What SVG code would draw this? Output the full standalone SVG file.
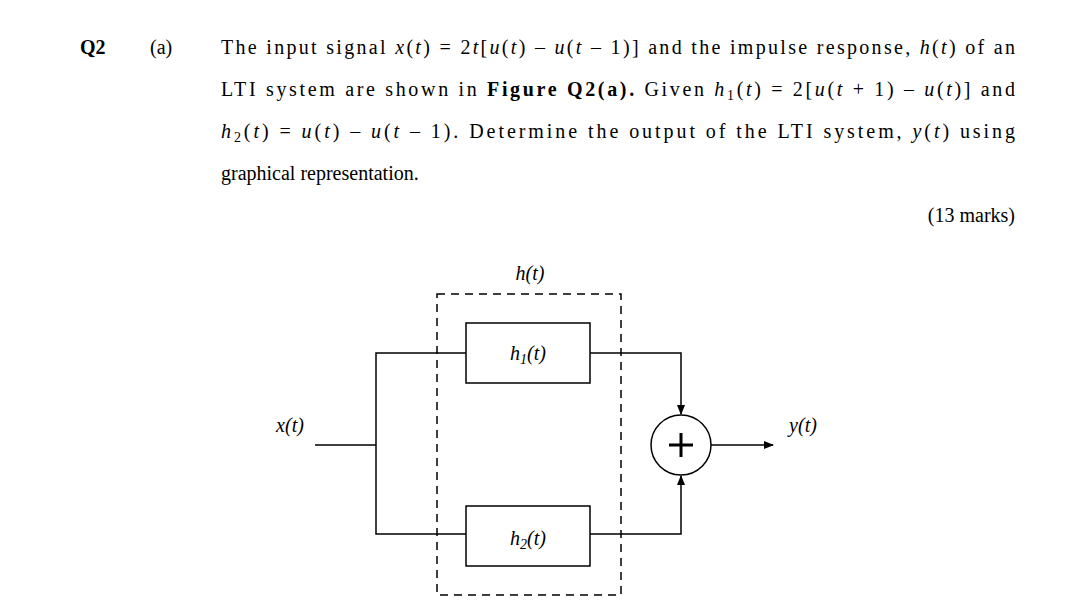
<svg xmlns="http://www.w3.org/2000/svg" width="1083" height="615" viewBox="0 0 1083 615">
<style>
text{font-family:"Liberation Serif","Times New Roman",serif;font-size:20px;fill:#000}
.i{font-style:italic}
.b{font-weight:bold}
.ln{stroke:#000;stroke-width:1.5;fill:none}
.box{stroke:#000;stroke-width:1.5;fill:#fff}
</style>
<defs><marker id="ar" markerWidth="10" markerHeight="8" refX="9" refY="4" orient="auto" markerUnits="userSpaceOnUse"><path d="M0,0L10,4L0,8Z" fill="#000"/></marker></defs>
<text x="80" y="54" class="b">Q2</text>
<text x="150" y="54">(a)</text>
<text x="221" y="54" textLength="794" lengthAdjust="spacing">The input signal <tspan class="i">x</tspan>(<tspan class="i">t</tspan>) = 2<tspan class="i">t</tspan>[<tspan class="i">u</tspan>(<tspan class="i">t</tspan>) – <tspan class="i">u</tspan>(<tspan class="i">t</tspan> – 1)] and the impulse response, <tspan class="i">h</tspan>(<tspan class="i">t</tspan>) of an</text>
<text x="221" y="96" textLength="794" lengthAdjust="spacing">LTI system are shown in <tspan class="b">Figure Q2(a).</tspan> Given <tspan class="i">h</tspan><tspan font-size="14" dy="4">1</tspan><tspan dy="-4">(</tspan><tspan class="i">t</tspan>) = 2[<tspan class="i">u</tspan>(<tspan class="i">t</tspan> + 1) – <tspan class="i">u</tspan>(<tspan class="i">t</tspan>)] and</text>
<text x="221" y="138" textLength="794" lengthAdjust="spacing"><tspan class="i">h</tspan><tspan font-size="14" dy="4">2</tspan><tspan dy="-4">(</tspan><tspan class="i">t</tspan>) = <tspan class="i">u</tspan>(<tspan class="i">t</tspan>) – <tspan class="i">u</tspan>(<tspan class="i">t</tspan> – 1). Determine the output of the LTI system, <tspan class="i">y</tspan>(<tspan class="i">t</tspan>) using</text>
<text x="221" y="180">graphical representation.</text>
<text x="1015" y="222" text-anchor="end">(13 marks)</text>
<g id="connectors">
<rect x="437" y="294" width="184" height="301" class="ln" stroke-dasharray="8,6" stroke-width="1.2"/>
<path class="ln" d="M315,445H376M466,353H376V534H466"/>
<path class="ln" d="M590,353H681V414" marker-end="url(#ar)"/>
<path class="ln" d="M590,534H681V476" marker-end="url(#ar)"/>
<path class="ln" d="M711,445H773" marker-end="url(#ar)"/>
</g>
<g id="h1"><rect x="466" y="323" width="124" height="60" class="box"/><text x="528" y="360" text-anchor="middle" class="i">h<tspan font-size="14" dy="4">1</tspan><tspan dy="-4">(t)</tspan></text></g>
<g id="h2"><rect x="466" y="506" width="124" height="60" class="box"/><text x="528" y="545" text-anchor="middle" class="i">h<tspan font-size="14" dy="4">2</tspan><tspan dy="-4">(t)</tspan></text></g>
<g id="sum"><circle cx="681" cy="445" r="30" class="box"/><path d="M681,433V457M669,445H693" stroke="#000" stroke-width="3"/></g>
<g id="labels">
<text x="290" y="432" text-anchor="middle" class="i">x(t)</text>
<text x="803" y="432" text-anchor="middle" class="i">y(t)</text>
<text x="530" y="280" text-anchor="middle" class="i">h(t)</text>
</g>
</svg>
